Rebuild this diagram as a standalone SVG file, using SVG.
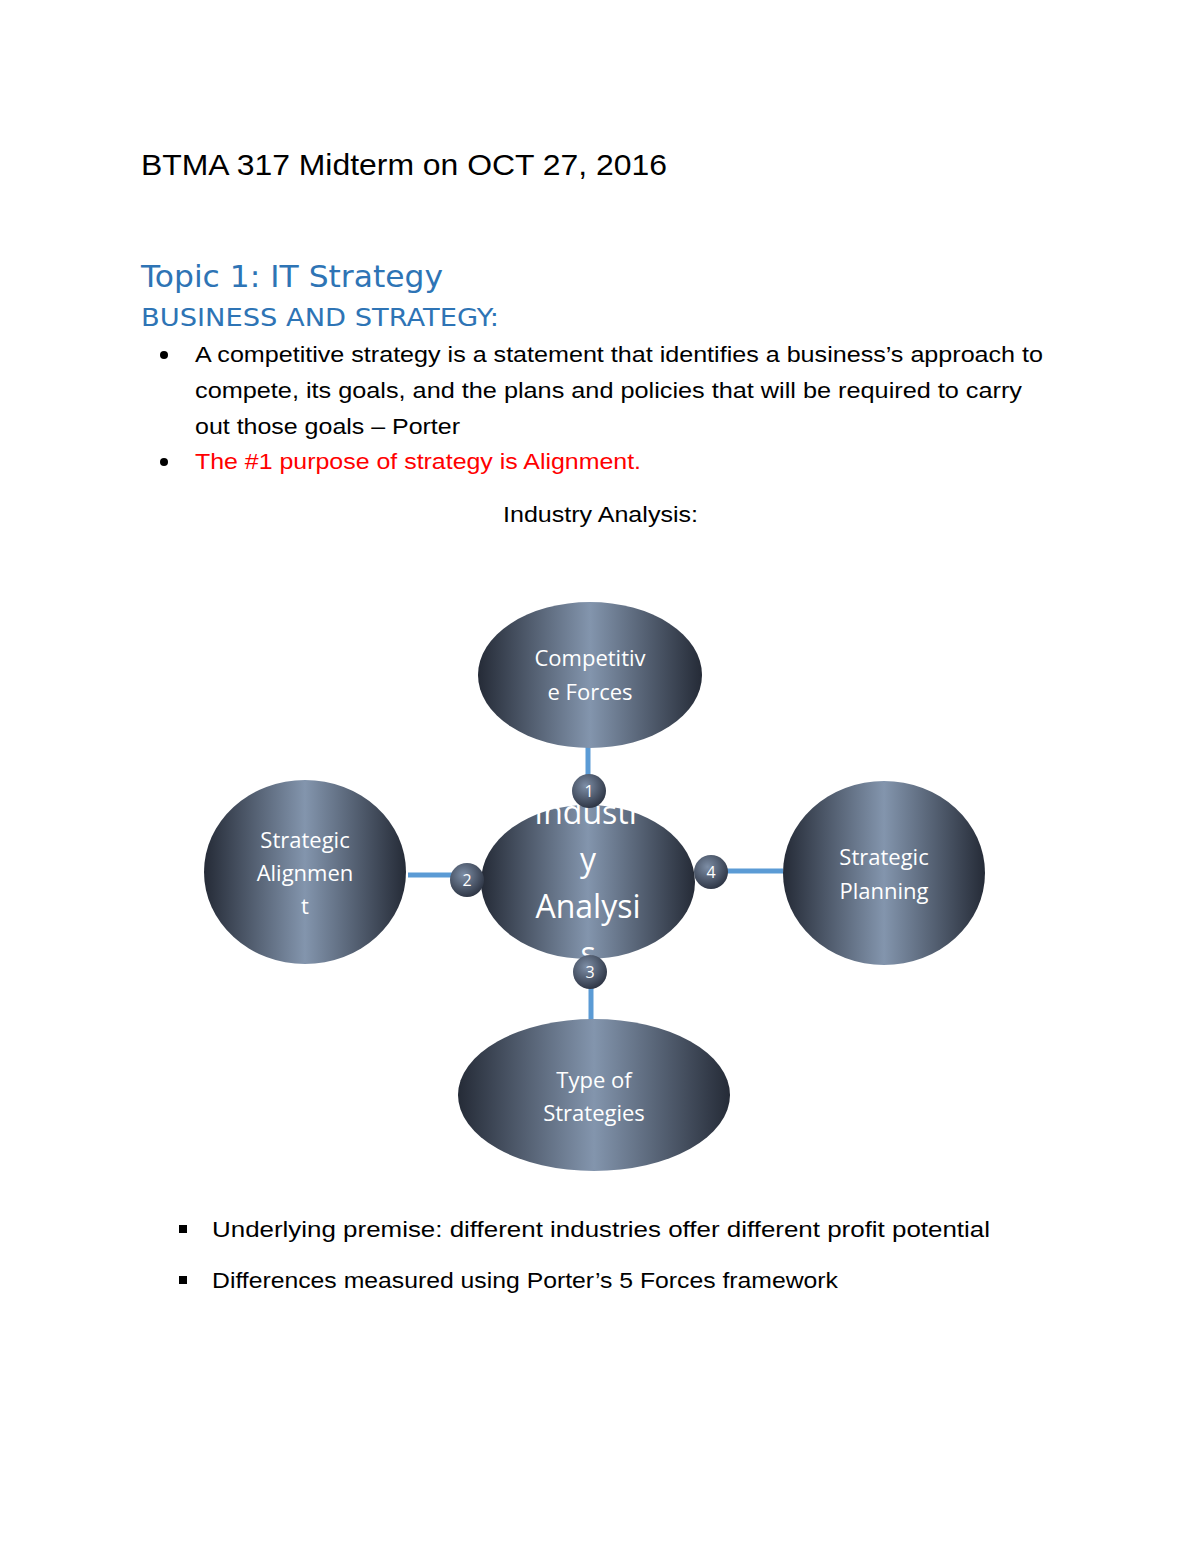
<svg xmlns="http://www.w3.org/2000/svg" width="1200" height="1553" viewBox="0 0 1200 1553">
<style>
.t{font-family:"Liberation Sans",Arial,sans-serif;fill:#000}
.h{font-family:"DejaVu Sans",sans-serif;fill:#2e74b5}
.w{font-family:"Open Sans","Liberation Sans",sans-serif;fill:#fff;text-anchor:middle}
.c{stroke:#5b9bd5;stroke-width:5;fill:none}
</style>
<defs>
<linearGradient id="g" x1="0" y1="0" x2="1" y2="0">
<stop offset="0" stop-color="#252b37"/><stop offset="0.5" stop-color="#8395ad"/><stop offset="1" stop-color="#252b37"/>
</linearGradient>
<radialGradient id="s" cx="0.4" cy="0.35" r="0.7">
<stop offset="0" stop-color="#7d8ea6"/><stop offset="1" stop-color="#2a3140"/>
</radialGradient>
</defs>
<rect width="1200" height="1553" fill="#fff"/>
<text class="t" x="141" y="175" font-size="30" textLength="526" lengthAdjust="spacingAndGlyphs">BTMA 317 Midterm on OCT 27, 2016</text>
<text class="h" x="141" y="287" font-size="30" textLength="302" lengthAdjust="spacingAndGlyphs">Topic 1: IT Strategy</text>
<text class="h" x="141" y="326" font-size="24" textLength="358" lengthAdjust="spacingAndGlyphs">BUSINESS AND STRATEGY:</text>
<g class="t" font-size="22">
<circle cx="164" cy="355" r="4" fill="#000"/>
<text x="195" y="362" textLength="848" lengthAdjust="spacingAndGlyphs">A competitive strategy is a statement that identifies a business’s approach to</text>
<text x="195" y="398" textLength="827" lengthAdjust="spacingAndGlyphs">compete, its goals, and the plans and policies that will be required to carry</text>
<text x="195" y="434" textLength="265" lengthAdjust="spacingAndGlyphs">out those goals – Porter</text>
<circle cx="164" cy="462" r="4" fill="#000"/>
<text x="195" y="469" style="fill:#ff0000" textLength="446" lengthAdjust="spacingAndGlyphs">The #1 purpose of strategy is Alignment.</text>
<text x="503" y="522" textLength="195" lengthAdjust="spacingAndGlyphs">Industry Analysis:</text>
<rect x="179" y="1225" width="8" height="8" fill="#000"/>
<text x="212" y="1237" textLength="778" lengthAdjust="spacingAndGlyphs">Underlying premise: different industries offer different profit potential</text>
<rect x="179" y="1276" width="8" height="8" fill="#000"/>
<text x="212" y="1288" textLength="626" lengthAdjust="spacingAndGlyphs">Differences measured using Porter’s 5 Forces framework</text>
</g>
<g id="connectors">
<line class="c" x1="588" y1="745" x2="588" y2="778"/>
<line class="c" x1="408" y1="875" x2="452" y2="875"/>
<line class="c" x1="726" y1="871" x2="783" y2="871"/>
<line class="c" x1="591" y1="986" x2="591" y2="1021"/>
</g>
<g id="center">
<ellipse cx="588" cy="882" rx="107" ry="77" fill="url(#g)"/>
<text class="w" x="588" y="824" font-size="32">Industr</text>
<text class="w" x="588" y="871" font-size="32">y</text>
<text class="w" x="588" y="918" font-size="32">Analysi</text>
<text class="w" x="588" y="965" font-size="32">s</text>
</g>
<g id="n1"><ellipse cx="590" cy="675" rx="112" ry="73" fill="url(#g)"/>
<text class="w" x="590" y="666" font-size="22">Competitiv</text><text class="w" x="590" y="700" font-size="22">e Forces</text></g>
<g id="n2"><ellipse cx="305" cy="872" rx="101" ry="92" fill="url(#g)"/>
<text class="w" x="305" y="848" font-size="22">Strategic</text><text class="w" x="305" y="881" font-size="22">Alignmen</text><text class="w" x="305" y="914" font-size="22">t</text></g>
<g id="n4"><ellipse cx="884" cy="873" rx="101" ry="92" fill="url(#g)"/>
<text class="w" x="884" y="865" font-size="22">Strategic</text><text class="w" x="884" y="899" font-size="22">Planning</text></g>
<g id="n3"><ellipse cx="594" cy="1095" rx="136" ry="76" fill="url(#g)"/>
<text class="w" x="594" y="1088" font-size="22">Type of</text><text class="w" x="594" y="1121" font-size="22">Strategies</text></g>
<g id="badges">
<circle cx="589" cy="791" r="17" fill="url(#s)"/><text class="w" x="589" y="797" font-size="16">1</text>
<circle cx="467" cy="880" r="17" fill="url(#s)"/><text class="w" x="467" y="886" font-size="16">2</text>
<circle cx="590" cy="972" r="17" fill="url(#s)"/><text class="w" x="590" y="978" font-size="16">3</text>
<circle cx="711" cy="872" r="17" fill="url(#s)"/><text class="w" x="711" y="878" font-size="16">4</text>
</g>
</svg>
